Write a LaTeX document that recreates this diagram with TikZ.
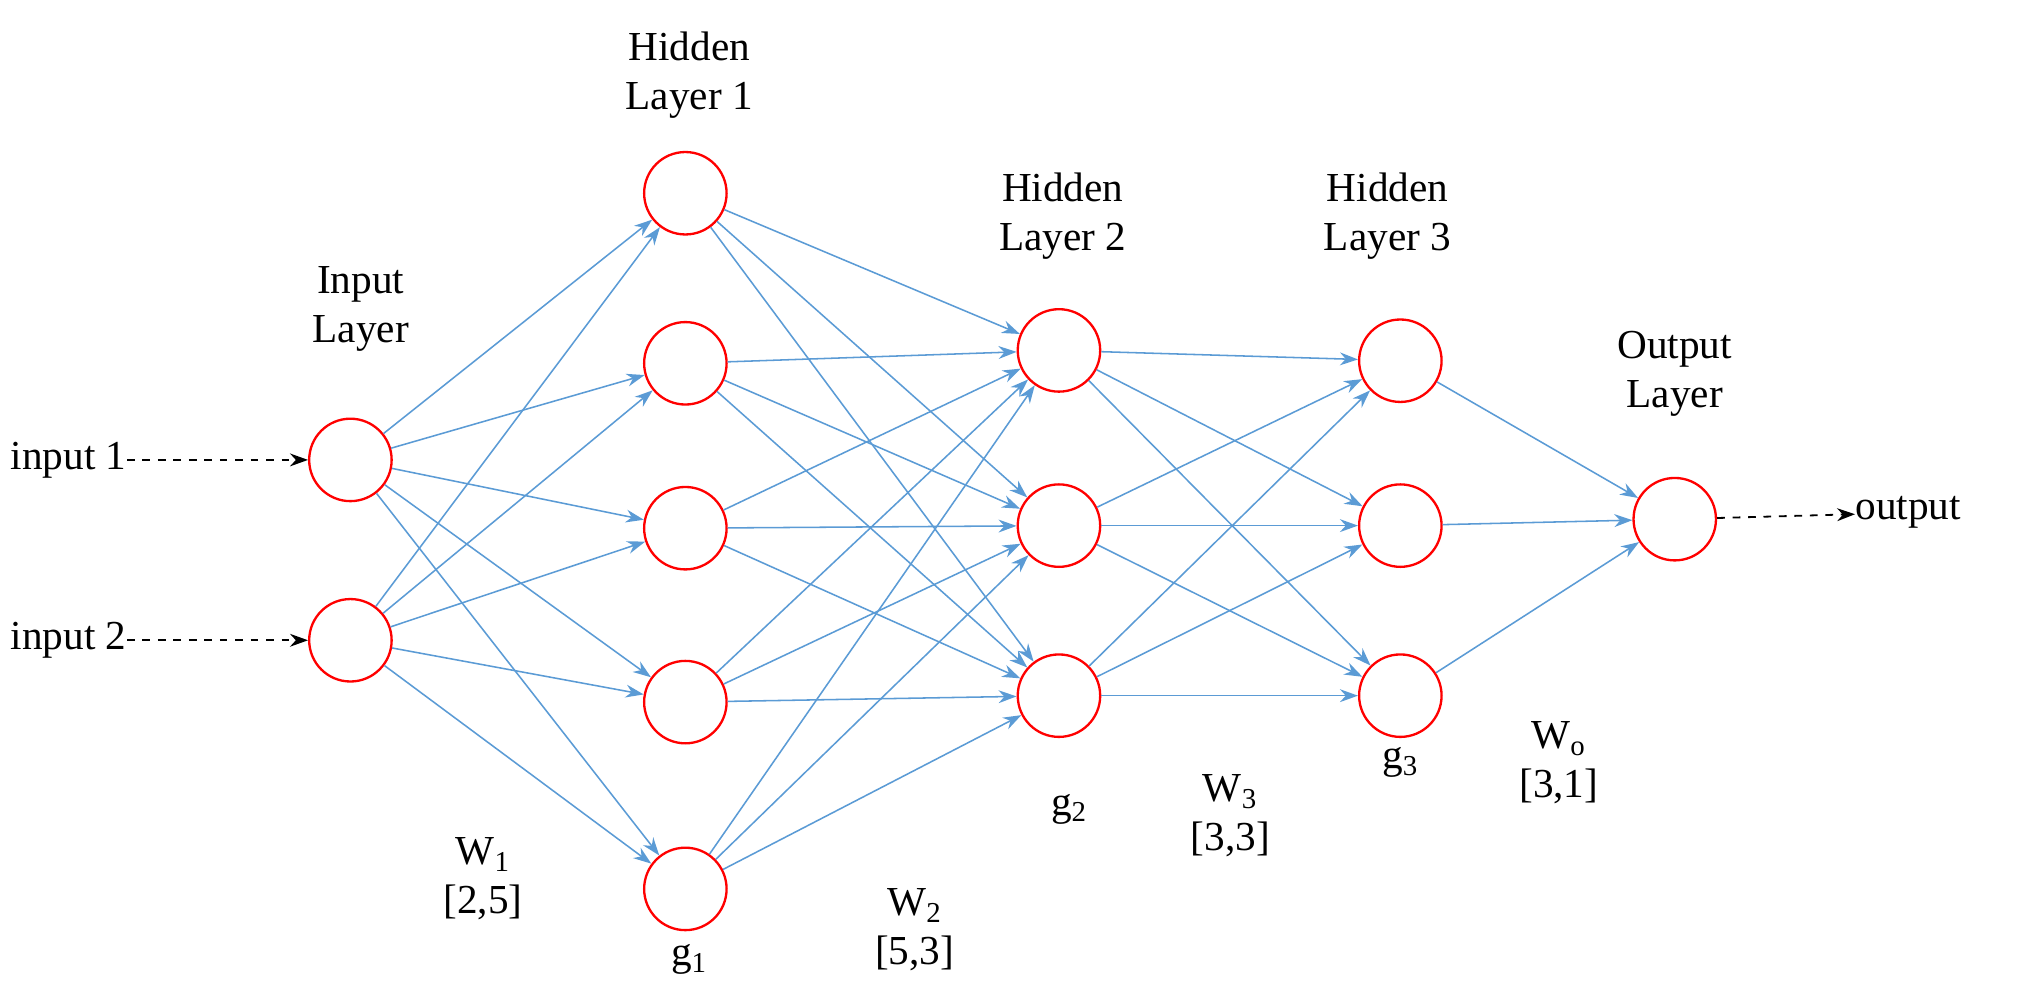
\documentclass[tikz,border=0pt]{standalone}
\usepackage{fontspec}
\setmainfont{Liberation Serif}
\usetikzlibrary{arrows.meta}
\definecolor{lb}{RGB}{91,155,213}
\begin{document}
\begin{tikzpicture}[x=0.5pt,y=-0.5pt,
  neuron/.style={circle,draw=red,line width=0.9pt,minimum size=32pt,inner sep=0},
  conn/.style={draw=lb,line width=0.6pt,-{Stealth[length=7pt,width=5pt]}},
  dasharrow/.style={draw=black,line width=0.7pt,dashed,-{Stealth[length=7pt,width=5pt]}},
  lbl/.style={font=\fontsize{16}{19}\selectfont,align=center,inner sep=0}]
\useasboundingbox (0,0) rectangle (1568,777);
\node[neuron] (i1) at (272,357) {};
\node[neuron] (i2) at (272,497) {};
\foreach \y [count=\k] in {150,282,410,545,690} \node[neuron] (a\k) at (532,\y) {};
\foreach \y [count=\k] in {272,408,540} \node[neuron] (b\k) at (822,\y) {};
\foreach \y [count=\k] in {280,408,540} \node[neuron] (c\k) at (1087,\y) {};
\node[neuron] (o) at (1300,403) {};
\foreach \i in {1,2} \foreach \k in {1,...,5} \draw[conn] (i\i) -- (a\k);
\foreach \i in {1,...,5} \foreach \k in {1,2,3} \draw[conn] (a\i) -- (b\k);
\foreach \i in {1,2,3} \foreach \k in {1,2,3} \draw[conn] (b\i) -- (c\k);
\foreach \i in {1,2,3} \draw[conn] (c\i) -- (o);
\node[lbl,anchor=west] (t1) at (8,357) {input 1};
\node[lbl,anchor=west] (t2) at (8,497) {input 2};
\node[lbl,anchor=west] (to) at (1440,398) {output};
\draw[dasharrow] (t1) -- (i1);
\draw[dasharrow] (t2) -- (i2);
\draw[dasharrow] (o) -- (to);
\node[lbl] (l0) at (280,240) {Input\\Layer};
\node[lbl] (l1) at (535,58) {Hidden\\Layer 1};
\node[lbl] (l2) at (825,168) {Hidden\\Layer 2};
\node[lbl] (l3) at (1077,168) {Hidden\\Layer 3};
\node[lbl] (l4) at (1300,290) {Output\\Layer};
\node[lbl] (w1) at (375,682) {W\textsubscript{1}\\{}[2,5]};
\node[lbl] (w2) at (710,722) {W\textsubscript{2}\\{}[5,3]};
\node[lbl] (w3) at (955,633) {W\textsubscript{3}\\{}[3,3]};
\node[lbl] (wo) at (1210,592) {W\textsubscript{o}\\{}[3,1]};
\node[lbl] (g1) at (535,745) {g\textsubscript{1}};
\node[lbl] (g2) at (830,628) {g\textsubscript{2}};
\node[lbl] (g3) at (1087,592) {g\textsubscript{3}};
\end{tikzpicture}
\end{document}
